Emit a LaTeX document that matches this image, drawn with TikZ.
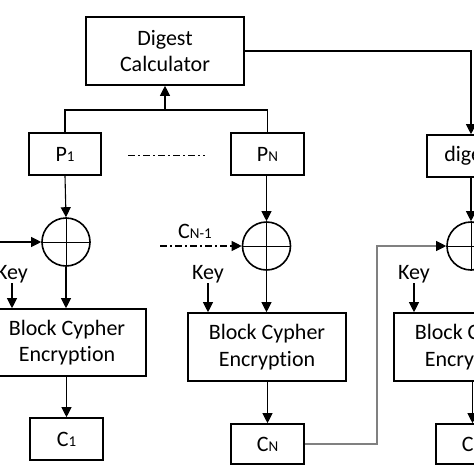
\documentclass[tikz,border=0pt]{standalone}
\usepackage{fontspec}
\setmainfont[Ligatures=NoCommon]{Carlito}
\usetikzlibrary{arrows.meta}
\newcommand{\smallsub}[1]{{\fontsize{15}{15}\selectfont #1}}
\tikzset{
  box/.style={draw=black, line width=1.6pt, rectangle, inner sep=0pt, align=center, font=\fontsize{22}{26.5}\selectfont},
  xorc/.style={draw=black, line width=1.6pt, circle, minimum size=48pt, inner sep=0pt},
  lbl/.style={inner sep=0pt, font=\fontsize{22}{26.5}\selectfont},
  arr/.style={line width=1.1pt, -{Triangle[length=10pt,width=10pt]}},
  ln/.style={line width=1.1pt},
  dashdot/.style={line width=1.1pt, dash pattern=on 7pt off 3pt on 2pt off 3pt},
  fb/.style={line width=1.1pt, draw=gray, -{Triangle[length=10pt,width=10pt,color=black]}}
}
\begin{document}
\begin{tikzpicture}[x=1pt,y=-1pt]
\useasboundingbox (0,0) rectangle (474,474);
\clip (0,0) rectangle (474,474);
% boxes
\node[box, minimum width=158pt, minimum height=68pt] (dc) at (165,51) {Digest\\Calculator};
\node[box, minimum width=72pt, minimum height=42pt] (p1) at (65,154) {P\smallsub{1}};
\node[box, minimum width=73pt, minimum height=42pt] (pn) at (267.5,154) {P\smallsub{N}};
\node[box, minimum width=88pt, minimum height=42pt] (dg) at (471,156) {digest};
\node[xorc] (x1) at (66,242) {};
\node[xorc] (x2) at (266.5,246) {};
\node[xorc] (x3) at (471,246) {};
\node[box, minimum width=158pt, minimum height=67pt] (b1) at (67,342.5) {Block Cypher\\Encryption};
\node[box, minimum width=158pt, minimum height=68pt] (b2) at (267,347) {Block Cypher\\Encryption};
\node[box, minimum width=158pt, minimum height=68pt] (b3) at (473,347) {Block Cypher\\Encryption};
\node[box, minimum width=73pt, minimum height=42pt] (c1) at (66.5,439) {C\smallsub{1}};
\node[box, minimum width=73pt, minimum height=40pt] (cn) at (267.5,444) {C\smallsub{N}};
\node[box, minimum width=73pt, minimum height=40pt] (cn3) at (472.5,444) {C\smallsub{N}};
% labels
\node[lbl] (k1) at (12,274) {Key};
\node[lbl] (k2) at (208,274) {Key};
\node[lbl] (k3) at (414,274) {Key};
\node[lbl] (cm) at (195,231) {C\smallsub{N-1}};
\coordinate (in1) at (-5,242);
\coordinate (in2) at (160,246);
\coordinate (j) at (165,110);
\coordinate (fbx) at (377,444);
% cross lines in xor circles
\foreach \x in {x1,x2,x3}{
  \draw[line width=0.9pt] (\x.north) -- (\x.south);
  \draw[line width=0.9pt] (\x.west) -- (\x.east);
}
% digest join
\draw[ln] (p1.north) |- (j) -| (pn.north);
\draw[arr] (j) -- (dc.south);
\draw[dashdot] (128,155.5) -- (205,155.5);
\draw[arr] (dc.east) -| (dg.north);
% column 1
\draw[arr] (p1.south) -- (x1.north);
\draw[arr] (in1) -- (x1.west);
\draw[arr] (x1.south) -- (x1.south |- b1.north);
\draw[arr] (k1.south) -- (k1.south |- b1.north);
\draw[arr] (b1.south -| c1.north) -- (c1.north);
% column 2
\draw[arr] (pn.south -| x2.north) -- (x2.north);
\draw[arr, dash pattern=on 7pt off 3pt on 2pt off 3pt] (in2) -- (x2.west);
\draw[arr] (x2.south) -- (x2.south |- b2.north);
\draw[arr] (k2.south) -- (k2.south |- b2.north);
\draw[arr] (b2.south -| cn.north) -- (cn.north);
% column 3
\draw[arr] (dg.south) -- (x3.north);
\draw[arr] (k3.south) -- (k3.south |- b3.north);
\draw[arr] (b3.south -| cn3.north) -- (cn3.north);
\draw[fb] (cn.east) -- (fbx) |- (x3.west);
\end{tikzpicture}
\end{document}
